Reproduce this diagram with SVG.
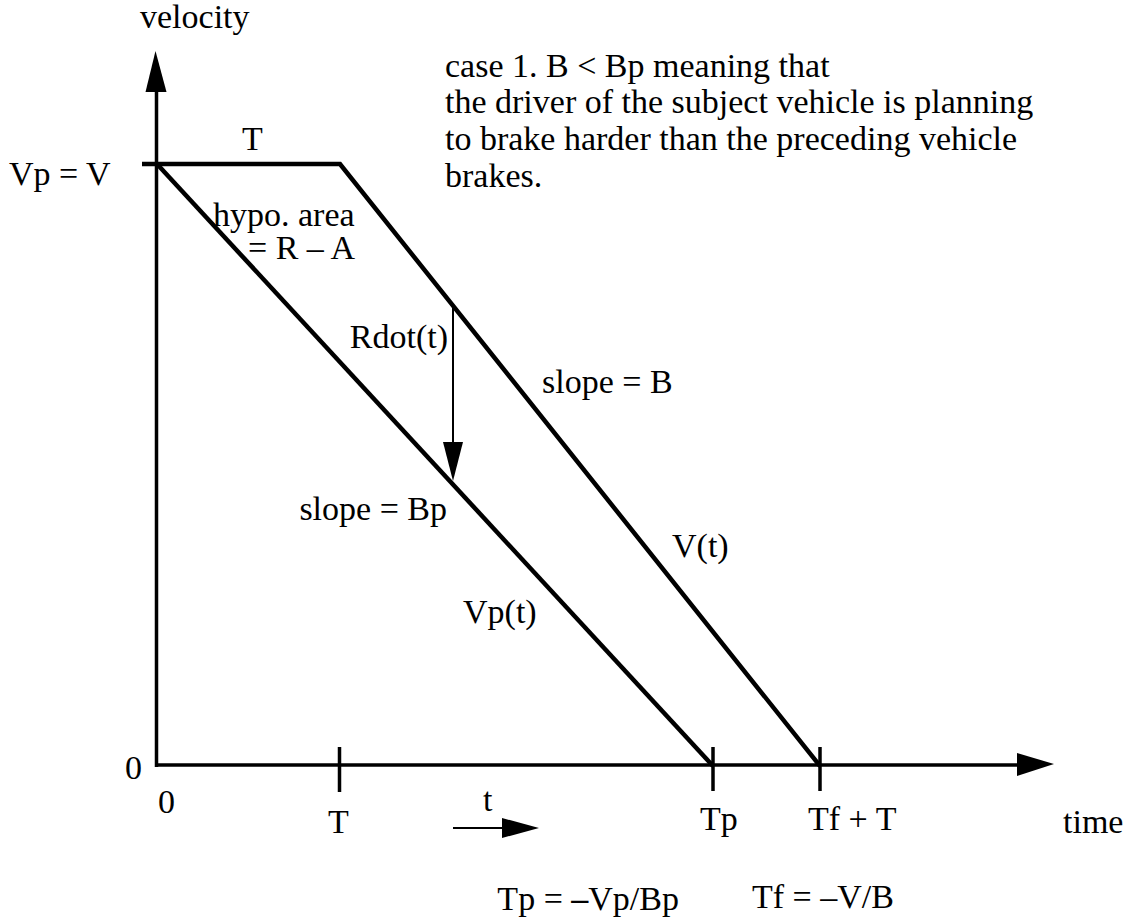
<svg xmlns="http://www.w3.org/2000/svg" width="1137" height="922" viewBox="0 0 1137 922">
<style>
text{font-family:"Liberation Serif","Times New Roman",serif;font-size:34px;fill:#000}
.ax{stroke:#000;stroke-width:3.5;fill:none}
.ln{stroke:#000;stroke-width:4.5;fill:none}
.th{stroke:#000;stroke-width:2;fill:none}
.hd{fill:#000;stroke:none}
</style>
<rect width="1137" height="922" fill="#fff"/>
<g id="axes">
<line class="ax" x1="156.5" y1="767" x2="156.5" y2="80"/>
<polygon class="hd" points="145.5,92 166.5,92 155.5,51"/>
<line class="ax" x1="155" y1="765" x2="1025" y2="765"/>
<polygon class="hd" points="1017,753 1054,764 1017,776"/>
<line class="ax" x1="339.5" y1="747" x2="339.5" y2="792"/>
<line class="ax" x1="713" y1="747" x2="713" y2="791"/>
<line class="ax" x1="820" y1="747" x2="820" y2="791"/>
</g>
<g id="curves">
<polyline class="ln" points="142,164 340,164 820,766"/>
<line class="ln" x1="157" y1="164" x2="713" y2="766"/>
</g>
<g id="connectors">
<line class="th" x1="453" y1="308" x2="453" y2="450"/>
<polygon class="hd" points="443,442 463,442 453,481"/>
<line class="th" x1="453" y1="828" x2="506" y2="828"/>
<polygon class="hd" points="502,818 539,828 502,838"/>
</g>
<g id="labels">
<text x="140" y="28">velocity</text>
<text x="445" y="77">case 1. B &lt; Bp meaning that</text>
<text x="445" y="113">the driver of the subject vehicle is planning</text>
<text x="445" y="150">to brake harder than the preceding vehicle</text>
<text x="445" y="187">brakes.</text>
<text x="9" y="185">Vp = V</text>
<text x="242" y="150">T</text>
<text x="213" y="226">hypo. area</text>
<text x="248" y="259">= R – A</text>
<text x="448" y="348" text-anchor="end">Rdot(t)</text>
<text x="542" y="393">slope = B</text>
<text x="447" y="520" text-anchor="end">slope = Bp</text>
<text x="672" y="557">V(t)</text>
<text x="463" y="623">Vp(t)</text>
<text x="125" y="779">0</text>
<text x="158" y="813">0</text>
<text x="328" y="833">T</text>
<text x="483" y="811">t</text>
<text x="700" y="830">Tp</text>
<text x="808" y="830">Tf + T</text>
<text x="1063" y="833">time</text>
<text x="679" y="910" text-anchor="end">Tp = <tspan font-weight="bold">–</tspan>Vp/Bp</text>
<text x="752" y="908">Tf = –V/B</text>
</g>
</svg>
